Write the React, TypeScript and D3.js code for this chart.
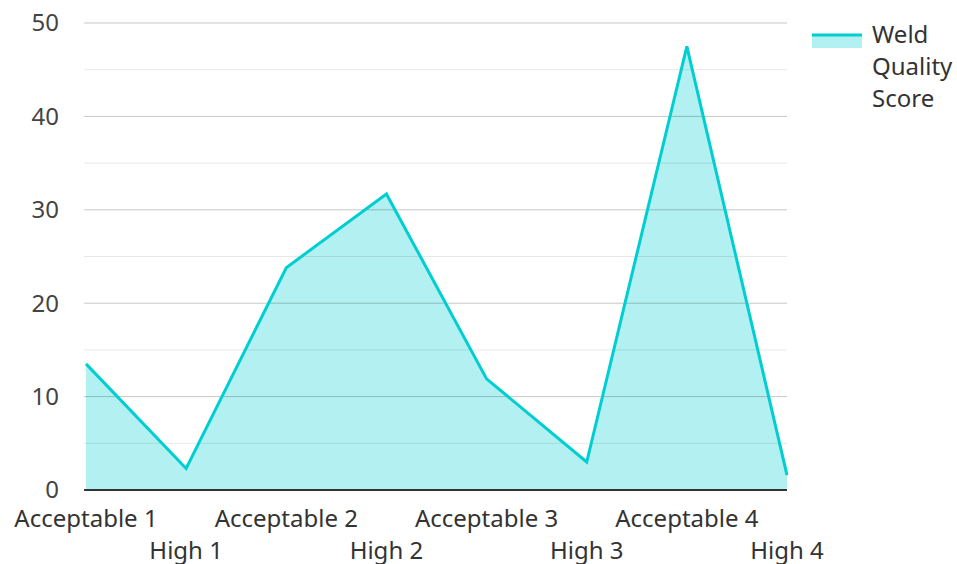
import React from "react";
import * as d3 from "d3";

const categories = ["Acceptable 1", "High 1", "Acceptable 2", "High 2", "Acceptable 3", "High 3", "Acceptable 4", "High 4"];
const scores = [13.5, 2.3, 23.8, 31.7, 11.9, 3.0, 47.5, 1.6];
const yTicks = [0, 10, 20, 30, 40, 50];
const yMinorTicks = [5, 15, 25, 35, 45];
const seriesName = ["Weld", "Quality", "Score"];

const W = 957, H = 564;
const M = { left: 86, right: 787, top: 23, bottom: 490 };
const LINE = "#00CED1";
const FONT = "'Noto Sans', 'Open Sans', sans-serif";

export default function App() {
  const x = d3.scalePoint<string>().domain(categories).range([M.left, M.right]);
  const y = d3.scaleLinear().domain([0, 50]).range([M.bottom, M.top]);
  const pts = categories.map((c, i) => [x(c) as number, y(scores[i])] as [number, number]);
  const line = d3.line<[number, number]>()(pts) || "";
  const area = d3.area<[number, number]>().x(d => d[0]).y0(y(0)).y1(d => d[1])(pts) || "";
  return (
    <svg width={W} height={H} style={{ position: "absolute", left: 0, top: 0, fontFamily: FONT }}>
      <path d={area} fill={LINE} fillOpacity={0.3} />
      {yMinorTicks.map(t => (
        <line key={"m" + t} x1={84} x2={M.right} y1={y(t)} y2={y(t)} stroke="rgba(0,0,0,0.09)" strokeWidth={1} />
      ))}
      {yTicks.filter(t => t > 0).map(t => (
        <line key={"g" + t} x1={84} x2={M.right} y1={y(t)} y2={y(t)} stroke="rgba(0,0,0,0.22)" strokeWidth={1} />
      ))}
      <path d={line} fill="none" stroke={LINE} strokeWidth={3} strokeLinejoin="miter" />
      <line x1={84} x2={M.right} y1={y(0)} y2={y(0)} stroke="#333" strokeWidth={2} />
      {yTicks.map(t => (
        <text key={"t" + t} x={59} y={y(t)} dy="0.35em" textAnchor="end" fontSize={24} fill="#444">{t}</text>
      ))}
      {categories.map((c, i) => (
        <text key={c} x={x(c) as number} y={i % 2 === 0 ? 527 : 559} textAnchor="middle" fontSize={24} fill="#333">{c}</text>
      ))}
      <rect x={812} y={34} width={50} height={14} fill={LINE} fillOpacity={0.3} />
      <line x1={812} x2={862} y1={35} y2={35} stroke={LINE} strokeWidth={3} />
      {seriesName.map((s, i) => (
        <text key={s} x={872} y={35 + i * 32} dy="0.35em" fontSize={24} fill="#333">{s}</text>
      ))}
    </svg>
  );
}
